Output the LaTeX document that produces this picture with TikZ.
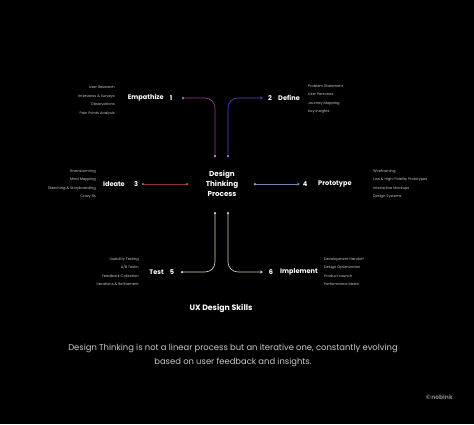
\documentclass[tikz,border=0pt]{standalone}
\usepackage{fontspec}
\setmainfont{Poppins}
\newfontfamily\symfont{DejaVu Sans}
\usetikzlibrary{arrows.meta}
\definecolor{cA}{HTML}{963F8E}
\definecolor{cB}{HTML}{5544C8}
\definecolor{cC}{HTML}{8E3440}
\definecolor{cD}{HTML}{7486B0}
\definecolor{cE}{HTML}{D4DAB4}
\definecolor{cF}{HTML}{CCD0B4}
\definecolor{subgray}{HTML}{C8C8C8}
\tikzset{
  lbl/.style={text=white,font=\bfseries\fontsize{6.6}{8}\selectfont,inner sep=0pt},
  numl/.style={text=white,font=\bfseries\fontsize{6.6}{8}\selectfont,inner sep=0pt},
  sub/.style={text=subgray,font=\fontsize{3.6}{8.5}\selectfont,inner sep=0pt},
  conn/.style={line width=0.65pt,rounded corners=10pt},
  endtip/.style={-{Stealth[length=3pt,width=3pt]}},
  dotc/.style={circle,inner sep=0pt,minimum size=2.5pt}
}
\begin{document}
\begin{tikzpicture}[x=1pt,y=-1pt]
\fill[black] (0,0) rectangle (474,424);
\useasboundingbox (0,0) rectangle (474,424);

% center
\node[text=white,font=\bfseries\fontsize{7.2}{10}\selectfont,align=center,inner sep=0pt] (center) at (222,184) {Design\\Thinking\\Process};

% labels
\node[lbl,anchor=east] (emp) at (164,98) {Empathize};
\node[numl] (n1) at (171,98) {1};
\node[numl] (n2) at (270,98) {2};
\node[lbl,anchor=west] (def) at (278,98) {Define};
\node[lbl,anchor=east] (ide) at (125,184) {Ideate};
\node[numl] (n3) at (136,184) {3};
\node[numl] (n4) at (305,184) {4};
\node[lbl,anchor=west] (pro) at (318,184) {Prototype};
\node[lbl,anchor=east] (tst) at (164,272) {Test};
\node[numl] (n5) at (172,272) {5};
\node[numl] (n6) at (271,272) {6};
\node[lbl,anchor=west] (imp) at (280,272) {Implement};

% sub items
\node[sub,anchor=east,align=right] (s1) at (115,100.5) {User Research\\Interviews \& Surveys\\Observations\\Pain Points Analysis};
\node[sub,anchor=west,align=left] (s2) at (308,99) {Problem Statement\\User Personas\\Journey Mapping\\Key Insights};
\node[sub,anchor=east,align=right] (s3) at (96,184) {Brainstorming\\Mind Mapping\\Sketching \& Storyboarding\\Crazy 8s};
\node[sub,anchor=west,align=left] (s4) at (373,184) {Wireframing\\Low \& High-Fidelity Prototypes\\Interactive Mockups\\Design Systems};
\node[sub,anchor=east,align=right] (s5) at (139,271.5) {Usability Testing\\A/B Testin\\Feedback Collection\\Iterations \& Refinement};
\node[sub,anchor=west,align=left] (s6) at (324,271.5) {Development Handoff\\Design Optimization\\Product Launch\\Performance Metric};

% connector end points
\coordinate (a1) at (183,98);  \coordinate (b1) at (215,156);
\coordinate (a2) at (228,156); \coordinate (b2) at (263,98);
\coordinate (a3) at (143,184); \coordinate (b3) at (187,184);
\coordinate (a4) at (255,184); \coordinate (b4) at (300,184);
\coordinate (a5) at (215,213); \coordinate (b5) at (182,272);
\coordinate (a6) at (228,213); \coordinate (b6) at (263,272);

\draw[conn,cA] (a1) -| (b1);
\draw[conn,cB,endtip] (a2) |- (b2);
\draw[conn,cC] (a3) -- (b3);
\draw[conn,cD,endtip] (a4) -- (b4);
\draw[conn,cE] (a5) |- (b5);
\draw[conn,cF,endtip] (a6) |- (b6);

\node[dotc,fill=cA!70!white] (d1a) at (a1) {};
\node[dotc,fill=cA!50!white] (d1b) at (b1) {};
\node[dotc,fill=cB!60!white] (d2a) at (a2) {};
\node[dotc,fill=cC!80!white] (d3a) at (a3) {};
\node[dotc,fill=cC!80!white] (d3b) at (b3) {};
\node[dotc,fill=cD!70!white] (d4a) at (a4) {};
\node[dotc,fill=cE] (d5a) at (a5) {};
\node[dotc,fill=cE] (d5b) at (b5) {};
\node[dotc,fill=cF] (d6a) at (a6) {};

% titles
\node[text=white,font=\bfseries\fontsize{7.8}{9}\selectfont,inner sep=0pt] (ux) at (221,308) {UX Design Skills};
\node[text=subgray,font=\fontsize{8.4}{14}\selectfont,align=center,inner sep=0pt] (note) at (233,355) {Design Thinking is not a linear process but an iterative one, constantly evolving\\based on user feedback and insights.};
\node[text=gray,font=\bfseries\fontsize{6}{7}\selectfont,inner sep=0pt] (brand) at (439,397) {{\symfont\fontsize{6}{7}\selectfont ©}nobink};
\end{tikzpicture}
\end{document}
